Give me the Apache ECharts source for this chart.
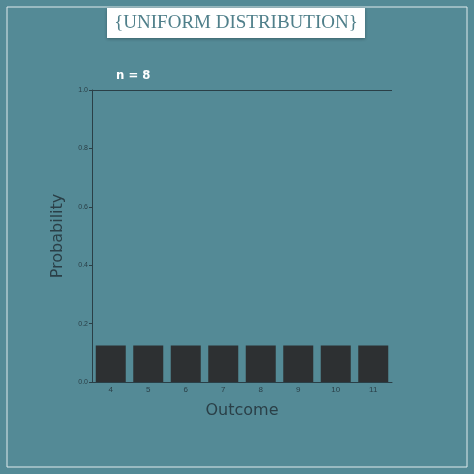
<!DOCTYPE html>
<html><head><meta charset="utf-8">
<script src="https://cdn.jsdelivr.net/npm/echarts@6/dist/echarts.min.js"></script>
<style>html,body{margin:0;padding:0;background:#548a96}#c{width:474px;height:474px}</style>
</head><body><div id="c"></div>
<script>
const outcomes = ['4', '5', '6', '7', '8', '9', '10', '11'];
const probs = [0.125, 0.125, 0.125, 0.125, 0.125, 0.125, 0.125, 0.125];

const chart = echarts.init(document.getElementById('c'));
const axisColor = '#2a3f47';
chart.setOption({
  backgroundColor: '#548a96',
  animation: false,
  grid: { left: 92, right: 82, top: 90, bottom: 92 },
  graphic: [
    { type: 'rect', shape: { x: 7, y: 7, width: 460, height: 460 }, style: { fill: 'none', stroke: '#dfeaec', lineWidth: 1 } },
    { type: 'rect', shape: { x: 107, y: 8, width: 258, height: 30 }, style: { fill: '#ffffff', shadowBlur: 3, shadowColor: 'rgba(0,0,0,0.3)', shadowOffsetY: 1 } },
    { type: 'text', x: 236, y: 23, style: { text: '{UNIFORM DISTRIBUTION}', fill: '#4f7f8a', font: '19px "Liberation Serif", serif', align: 'center', verticalAlign: 'middle' } },
    { type: 'text', x: 116, y: 76, style: { text: 'n = 8', fill: '#ffffff', font: 'bold 13px "DejaVu Sans Condensed", sans-serif', verticalAlign: 'middle' } }
  ],
  xAxis: {
    type: 'category', data: outcomes,
    name: 'Outcome', nameLocation: 'middle', nameGap: 21,
    nameTextStyle: { color: axisColor, fontSize: 16, fontFamily: 'DejaVu Sans' },
    axisLine: { lineStyle: { color: axisColor } },
    axisTick: { alignWithLabel: true, length: 3, lineStyle: { color: axisColor } },
    axisLabel: { color: axisColor, fontSize: 8, margin: 4 }
  },
  yAxis: {
    type: 'value', min: 0, max: 1, interval: 0.2,
    name: 'Probability', nameLocation: 'middle', nameGap: 26,
    nameTextStyle: { color: axisColor, fontSize: 16, fontFamily: 'DejaVu Sans' },
    axisLine: { show: true, lineStyle: { color: axisColor } },
    axisTick: { show: true, length: 3, lineStyle: { color: axisColor } },
    axisLabel: { color: axisColor, fontSize: 7, margin: 4, formatter: v => v.toFixed(1) },
    splitLine: { show: false }
  },
  series: [
    { type: 'bar', data: probs, barWidth: '80%', itemStyle: { color: '#2d3032' } },
    { type: 'line', data: [], markLine: { silent: true, symbol: 'none', label: { show: false }, lineStyle: { color: axisColor, type: 'solid', width: 1 }, data: [{ yAxis: 1 }, { xAxis: 7.5 }] } }
  ]
});
</script></body></html>
